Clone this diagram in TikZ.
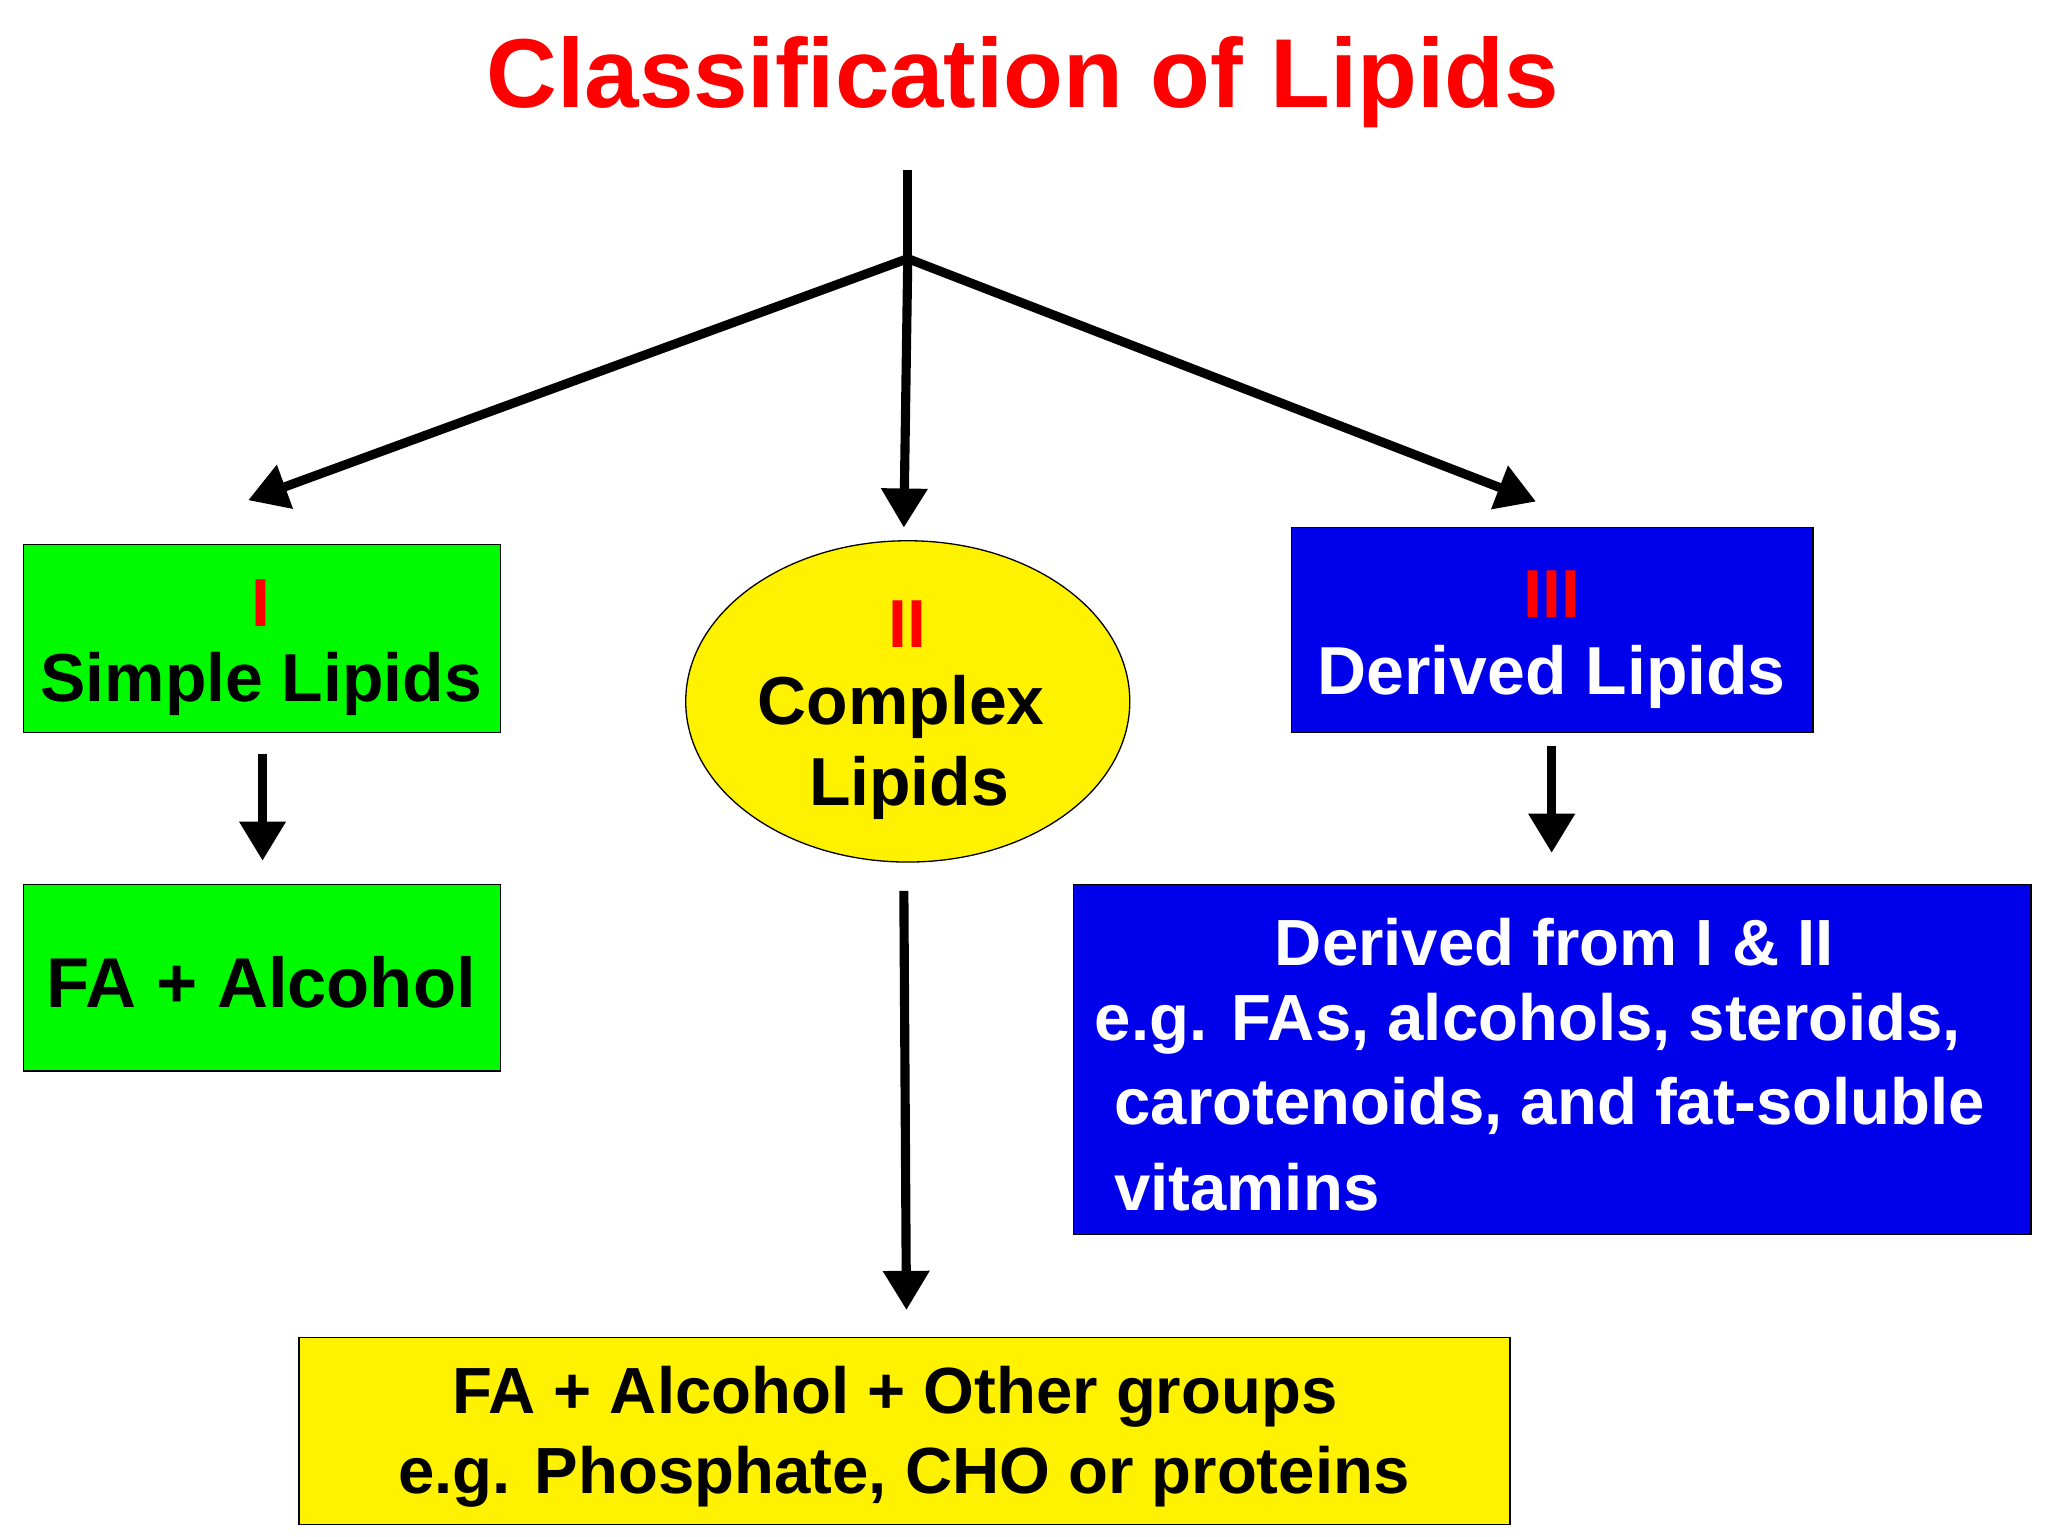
\documentclass[tikz,border=0pt]{standalone}
\usepackage{fontspec}
\setmainfont{Liberation Sans}
\usetikzlibrary{arrows.meta,shapes.geometric}
\begin{document}
\begin{tikzpicture}[x=1pt,y=-1pt,
 txt/.style={font=\fontsize{52}{62}\selectfont\bfseries,inner sep=0pt},
 arr/.style={line width=7pt,-{Triangle[length=30pt,width=34pt]}},
 ln/.style={line width=7pt},
 box/.style={draw=black,line width=1pt}]
\useasboundingbox (0,0) rectangle (1568,1176);
\fill[white] (0,0) rectangle (1568,1176);
\node[txt,red,font=\fontsize{75}{80}\selectfont\bfseries] (title) at (783,63) {Classification of Lipids};
% boxes
\node[box,fill=green!85!black!10!green,minimum width=365pt,minimum height=144pt] (b1) at (200.5,489) {};
\node[txt,red] (n1) at (200,462) {I};
\node[txt] (s1) at (200,524) {Simple Lipids};
\node[box,fill=green!85!black!10!green,minimum width=365pt,minimum height=143pt] (b2) at (200.5,748.5) {};
\node[txt,font=\fontsize{54}{62}\selectfont\bfseries] (fa) at (200,752) {FA + Alcohol};
\node[box,ellipse,fill=yellow,minimum width=340pt,minimum height=246pt] (el) at (695,537) {};
\node[txt,red] (n2) at (695,478) {II};
\node[txt] (c2) at (690,541) {Complex};
\node[txt] (c3) at (696,603) {Lipids};
\node[box,fill=yellow,minimum width=927pt,minimum height=143pt] (b4) at (692.5,1095.5) {};
\node[txt,font=\fontsize{50}{60}\selectfont\bfseries] (t4a) at (685,1069) {FA + Alcohol + Other groups};
\node[txt,font=\fontsize{50}{60}\selectfont\bfseries] (t4b) at (692,1131) {e.g. Phosphate, CHO or proteins};
\node[box,fill=blue!92!black,minimum width=399pt,minimum height=157pt] (b3) at (1188.5,482.5) {};
\node[txt,red] (n3) at (1188,455) {III};
\node[txt,white] (d3) at (1188,518) {Derived Lipids};
\node[box,fill=blue!92!black,minimum width=733pt,minimum height=268pt] (b5) at (1188.5,811) {};
\node[txt,white,font=\fontsize{50}{60}\selectfont\bfseries] (d5a) at (1190,721) {Derived from I \& II};
\node[txt,white,font=\fontsize{50}{60}\selectfont\bfseries,anchor=west] (d5b) at (838,784) {e.g. FAs, alcohols, steroids,};
\node[txt,white,font=\fontsize{50}{60}\selectfont\bfseries,anchor=west] (d5c) at (853,847) {carotenoids, and fat-soluble};
\node[txt,white,font=\fontsize{50}{60}\selectfont\bfseries,anchor=west] (d5d) at (853,909) {vitamins};
% connectors
\coordinate (top) at (695,130);
\coordinate (hub) at (695,198);
\coordinate (a1) at (190,383);
\coordinate (a2) at (692,404);
\coordinate (a3) at (1176,384);
\draw[ln] (top) -- (hub);
\draw[arr] (hub) -- (a1);
\draw[arr] (hub) -- (a2);
\draw[arr] (hub) -- (a3);
\coordinate (p1) at (201,577); \coordinate (q1) at (201,659);
\draw[arr] (p1) -- (q1);
\coordinate (p2) at (692,682); \coordinate (q2) at (694,1003);
\draw[arr] (p2) -- (q2);
\coordinate (p3) at (1188,571); \coordinate (q3) at (1188,653);
\draw[arr] (p3) -- (q3);
\end{tikzpicture}
\end{document}
